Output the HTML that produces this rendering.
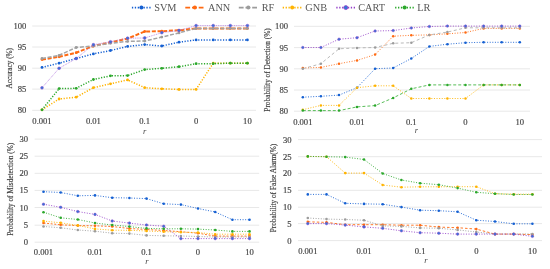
<!DOCTYPE html>
<html><head><meta charset="utf-8"><style>
html,body{margin:0;padding:0;background:#fff;width:550px;height:269px;overflow:hidden}
svg{display:block;filter:blur(0.35px)}
text{font-family:"Liberation Serif",serif;fill:#454545;stroke:#454545;stroke-width:0.18px}
.t{font-size:8.6px}
.r{font-size:8.5px;font-style:italic;stroke:none!important}
.ti{font-size:7.3px}
.b{font-size:7.7px}
.lg{font-size:10.3px;stroke:none!important;fill:#555!important}
</style></head><body>
<svg width="550" height="269" viewBox="0 0 550 269">
<rect width="550" height="269" fill="#fff"/>
<line x1="32.2" y1="26.0" x2="256" y2="26.0" stroke="#e8e8e8" stroke-width="1"/>
<text x="26.3" y="29.0" text-anchor="end" class="t">100</text>
<line x1="32.2" y1="47.0" x2="256" y2="47.0" stroke="#e8e8e8" stroke-width="1"/>
<text x="26.3" y="50.0" text-anchor="end" class="t">95</text>
<line x1="32.2" y1="68.2" x2="256" y2="68.2" stroke="#e8e8e8" stroke-width="1"/>
<text x="26.3" y="71.2" text-anchor="end" class="t">90</text>
<line x1="32.2" y1="89.1" x2="256" y2="89.1" stroke="#e8e8e8" stroke-width="1"/>
<text x="26.3" y="92.1" text-anchor="end" class="t">85</text>
<line x1="32.2" y1="110.3" x2="256" y2="110.3" stroke="#e8e8e8" stroke-width="1"/>
<text x="26.3" y="113.3" text-anchor="end" class="t">80</text>
<text x="42.0" y="124.0" text-anchor="middle" class="t">0.001</text>
<text x="93.4" y="124.0" text-anchor="middle" class="t">0.01</text>
<text x="144.7" y="124.0" text-anchor="middle" class="t">0.1</text>
<text x="196.1" y="124.0" text-anchor="middle" class="t">0</text>
<text x="247.4" y="124.0" text-anchor="middle" class="t">10</text>
<text x="144.7" y="134.0" text-anchor="middle" class="r">r</text>
<text transform="translate(11.8,68.2) rotate(-90)" text-anchor="middle" textLength="40.5" lengthAdjust="spacingAndGlyphs" class="ti b">Accuracy (%)</text>
<polyline points="42.0,67.4 59.1,63.2 76.2,58.5 93.4,53.9 110.5,50.5 127.6,46.4 144.7,44.6 161.8,46.0 179.0,42.2 196.1,39.9 213.2,39.9 230.3,39.9 247.4,39.9" fill="none" stroke="#1560d2" stroke-width="1.5" stroke-dasharray="1.2 1.55"/>
<circle cx="42.0" cy="67.4" r="1.4" fill="#1560d2"/>
<circle cx="59.1" cy="63.2" r="1.4" fill="#1560d2"/>
<circle cx="76.2" cy="58.5" r="1.4" fill="#1560d2"/>
<circle cx="93.4" cy="53.9" r="1.4" fill="#1560d2"/>
<circle cx="110.5" cy="50.5" r="1.4" fill="#1560d2"/>
<circle cx="127.6" cy="46.4" r="1.4" fill="#1560d2"/>
<circle cx="144.7" cy="44.6" r="1.4" fill="#1560d2"/>
<circle cx="161.8" cy="46.0" r="1.4" fill="#1560d2"/>
<circle cx="179.0" cy="42.2" r="1.4" fill="#1560d2"/>
<circle cx="196.1" cy="39.9" r="1.4" fill="#1560d2"/>
<circle cx="213.2" cy="39.9" r="1.4" fill="#1560d2"/>
<circle cx="230.3" cy="39.9" r="1.4" fill="#1560d2"/>
<circle cx="247.4" cy="39.9" r="1.4" fill="#1560d2"/>
<polyline points="42.0,59.6 59.1,56.8 76.2,52.7 93.4,46.0 110.5,42.3 127.6,38.6 144.7,31.5 161.8,31.2 179.0,30.3 196.1,28.4 213.2,28.4 230.3,28.4 247.4,28.4" fill="none" stroke="#ff6a12" stroke-width="2.0" stroke-dasharray="4 1.7"/>
<circle cx="42.0" cy="59.6" r="1.4" fill="#ff6a12"/>
<circle cx="59.1" cy="56.8" r="1.4" fill="#ff6a12"/>
<circle cx="76.2" cy="52.7" r="1.4" fill="#ff6a12"/>
<circle cx="93.4" cy="46.0" r="1.4" fill="#ff6a12"/>
<circle cx="110.5" cy="42.3" r="1.4" fill="#ff6a12"/>
<circle cx="127.6" cy="38.6" r="1.4" fill="#ff6a12"/>
<circle cx="144.7" cy="31.5" r="1.4" fill="#ff6a12"/>
<circle cx="161.8" cy="31.2" r="1.4" fill="#ff6a12"/>
<circle cx="179.0" cy="30.3" r="1.4" fill="#ff6a12"/>
<circle cx="196.1" cy="28.4" r="1.4" fill="#ff6a12"/>
<circle cx="213.2" cy="28.4" r="1.4" fill="#ff6a12"/>
<circle cx="230.3" cy="28.4" r="1.4" fill="#ff6a12"/>
<circle cx="247.4" cy="28.4" r="1.4" fill="#ff6a12"/>
<polyline points="42.0,58.5 59.1,55.3 76.2,47.5 93.4,46.0 110.5,43.3 127.6,41.4 144.7,41.0 161.8,37.1 179.0,32.9 196.1,28.4 213.2,28.4 230.3,28.4 247.4,28.4" fill="none" stroke="#a4a4a4" stroke-width="1.5" stroke-dasharray="4 1.7"/>
<circle cx="42.0" cy="58.5" r="1.4" fill="#9c9c9c"/>
<circle cx="59.1" cy="55.3" r="1.4" fill="#9c9c9c"/>
<circle cx="76.2" cy="47.5" r="1.4" fill="#9c9c9c"/>
<circle cx="93.4" cy="46.0" r="1.4" fill="#9c9c9c"/>
<circle cx="110.5" cy="43.3" r="1.4" fill="#9c9c9c"/>
<circle cx="127.6" cy="41.4" r="1.4" fill="#9c9c9c"/>
<circle cx="144.7" cy="41.0" r="1.4" fill="#9c9c9c"/>
<circle cx="161.8" cy="37.1" r="1.4" fill="#9c9c9c"/>
<circle cx="179.0" cy="32.9" r="1.4" fill="#9c9c9c"/>
<circle cx="196.1" cy="28.4" r="1.4" fill="#9c9c9c"/>
<circle cx="213.2" cy="28.4" r="1.4" fill="#9c9c9c"/>
<circle cx="230.3" cy="28.4" r="1.4" fill="#9c9c9c"/>
<circle cx="247.4" cy="28.4" r="1.4" fill="#9c9c9c"/>
<polyline points="42.0,109.8 59.1,99.0 76.2,97.2 93.4,87.7 110.5,83.8 127.6,79.9 144.7,87.7 161.8,88.8 179.0,89.5 196.1,89.4 213.2,63.2 230.3,63.2 247.4,63.2" fill="none" stroke="#ffb300" stroke-width="1.5" stroke-dasharray="1.2 1.55"/>
<circle cx="42.0" cy="109.8" r="1.4" fill="#ffb300"/>
<circle cx="59.1" cy="99.0" r="1.4" fill="#ffb300"/>
<circle cx="76.2" cy="97.2" r="1.4" fill="#ffb300"/>
<circle cx="93.4" cy="87.7" r="1.4" fill="#ffb300"/>
<circle cx="110.5" cy="83.8" r="1.4" fill="#ffb300"/>
<circle cx="127.6" cy="79.9" r="1.4" fill="#ffb300"/>
<circle cx="144.7" cy="87.7" r="1.4" fill="#ffb300"/>
<circle cx="161.8" cy="88.8" r="1.4" fill="#ffb300"/>
<circle cx="179.0" cy="89.5" r="1.4" fill="#ffb300"/>
<circle cx="196.1" cy="89.4" r="1.4" fill="#ffb300"/>
<circle cx="213.2" cy="63.2" r="1.4" fill="#ffb300"/>
<circle cx="230.3" cy="63.2" r="1.4" fill="#ffb300"/>
<circle cx="247.4" cy="63.2" r="1.4" fill="#ffb300"/>
<polyline points="42.0,87.8 59.1,68.3 76.2,58.5 93.4,44.7 110.5,41.8 127.6,38.2 144.7,38.0 161.8,32.7 179.0,30.5 196.1,25.6 213.2,25.6 230.3,25.6 247.4,25.6" fill="none" stroke="#b57ddf" stroke-width="0.8" stroke-dasharray="1 0.8"/>
<circle cx="42.0" cy="87.8" r="1.4" fill="#2f7ad8" stroke="#9440c8" stroke-width="0.5"/>
<circle cx="59.1" cy="68.3" r="1.4" fill="#2f7ad8" stroke="#9440c8" stroke-width="0.5"/>
<circle cx="76.2" cy="58.5" r="1.4" fill="#2f7ad8" stroke="#9440c8" stroke-width="0.5"/>
<circle cx="93.4" cy="44.7" r="1.4" fill="#2f7ad8" stroke="#9440c8" stroke-width="0.5"/>
<circle cx="110.5" cy="41.8" r="1.4" fill="#2f7ad8" stroke="#9440c8" stroke-width="0.5"/>
<circle cx="127.6" cy="38.2" r="1.4" fill="#2f7ad8" stroke="#9440c8" stroke-width="0.5"/>
<circle cx="144.7" cy="38.0" r="1.4" fill="#2f7ad8" stroke="#9440c8" stroke-width="0.5"/>
<circle cx="161.8" cy="32.7" r="1.4" fill="#2f7ad8" stroke="#9440c8" stroke-width="0.5"/>
<circle cx="179.0" cy="30.5" r="1.4" fill="#2f7ad8" stroke="#9440c8" stroke-width="0.5"/>
<circle cx="196.1" cy="25.6" r="1.4" fill="#2f7ad8" stroke="#9440c8" stroke-width="0.5"/>
<circle cx="213.2" cy="25.6" r="1.4" fill="#2f7ad8" stroke="#9440c8" stroke-width="0.5"/>
<circle cx="230.3" cy="25.6" r="1.4" fill="#2f7ad8" stroke="#9440c8" stroke-width="0.5"/>
<circle cx="247.4" cy="25.6" r="1.4" fill="#2f7ad8" stroke="#9440c8" stroke-width="0.5"/>
<polyline points="42.0,109.8 59.1,88.6 76.2,88.3 93.4,79.5 110.5,75.8 127.6,75.6 144.7,69.6 161.8,68.3 179.0,66.7 196.1,63.7 213.2,63.7 230.3,63.2 247.4,63.2" fill="none" stroke="#2ba82b" stroke-width="1.5" stroke-dasharray="1.2 1.55"/>
<circle cx="42.0" cy="109.8" r="1.4" fill="#2ba82b"/>
<circle cx="59.1" cy="88.6" r="1.4" fill="#2ba82b"/>
<circle cx="76.2" cy="88.3" r="1.4" fill="#2ba82b"/>
<circle cx="93.4" cy="79.5" r="1.4" fill="#2ba82b"/>
<circle cx="110.5" cy="75.8" r="1.4" fill="#2ba82b"/>
<circle cx="127.6" cy="75.6" r="1.4" fill="#2ba82b"/>
<circle cx="144.7" cy="69.6" r="1.4" fill="#2ba82b"/>
<circle cx="161.8" cy="68.3" r="1.4" fill="#2ba82b"/>
<circle cx="179.0" cy="66.7" r="1.4" fill="#2ba82b"/>
<circle cx="196.1" cy="63.7" r="1.4" fill="#2ba82b"/>
<circle cx="213.2" cy="63.7" r="1.4" fill="#2ba82b"/>
<circle cx="230.3" cy="63.2" r="1.4" fill="#2ba82b"/>
<circle cx="247.4" cy="63.2" r="1.4" fill="#2ba82b"/>
<line x1="294" y1="26.3" x2="530" y2="26.3" stroke="#e8e8e8" stroke-width="1"/>
<text x="288" y="29.3" text-anchor="end" class="t">100</text>
<line x1="294" y1="47.6" x2="530" y2="47.6" stroke="#e8e8e8" stroke-width="1"/>
<text x="288" y="50.6" text-anchor="end" class="t">95</text>
<line x1="294" y1="68.8" x2="530" y2="68.8" stroke="#e8e8e8" stroke-width="1"/>
<text x="288" y="71.8" text-anchor="end" class="t">90</text>
<line x1="294" y1="90.0" x2="530" y2="90.0" stroke="#e8e8e8" stroke-width="1"/>
<text x="288" y="93.0" text-anchor="end" class="t">85</text>
<line x1="294" y1="111.2" x2="530" y2="111.2" stroke="#e8e8e8" stroke-width="1"/>
<text x="288" y="114.2" text-anchor="end" class="t">80</text>
<text x="302.8" y="124.5" text-anchor="middle" class="t">0.001</text>
<text x="357.0" y="124.5" text-anchor="middle" class="t">0.01</text>
<text x="411.3" y="124.5" text-anchor="middle" class="t">0.1</text>
<text x="465.5" y="124.5" text-anchor="middle" class="t">0</text>
<text x="519.8" y="124.5" text-anchor="middle" class="t">10</text>
<text x="416.3" y="133.0" text-anchor="middle" class="r">r</text>
<text transform="translate(269.5,70) rotate(-90)" text-anchor="middle" class="ti">Probability of Detection (%)</text>
<polyline points="302.8,97.2 320.9,96.3 339.0,95.1 357.0,87.7 375.1,68.7 393.2,68.0 411.3,58.5 429.4,46.4 447.4,44.2 465.5,42.7 483.6,42.3 501.7,42.3 519.8,42.3" fill="none" stroke="#1560d2" stroke-width="0.9" stroke-dasharray="1 1.6"/>
<circle cx="302.8" cy="97.2" r="1.25" fill="#1560d2"/>
<circle cx="320.9" cy="96.3" r="1.25" fill="#1560d2"/>
<circle cx="339.0" cy="95.1" r="1.25" fill="#1560d2"/>
<circle cx="357.0" cy="87.7" r="1.25" fill="#1560d2"/>
<circle cx="375.1" cy="68.7" r="1.25" fill="#1560d2"/>
<circle cx="393.2" cy="68.0" r="1.25" fill="#1560d2"/>
<circle cx="411.3" cy="58.5" r="1.25" fill="#1560d2"/>
<circle cx="429.4" cy="46.4" r="1.25" fill="#1560d2"/>
<circle cx="447.4" cy="44.2" r="1.25" fill="#1560d2"/>
<circle cx="465.5" cy="42.7" r="1.25" fill="#1560d2"/>
<circle cx="483.6" cy="42.3" r="1.25" fill="#1560d2"/>
<circle cx="501.7" cy="42.3" r="1.25" fill="#1560d2"/>
<circle cx="519.8" cy="42.3" r="1.25" fill="#1560d2"/>
<polyline points="302.8,68.0 320.9,67.4 339.0,63.7 357.0,60.4 375.1,54.6 393.2,36.2 411.3,35.3 429.4,34.9 447.4,33.8 465.5,32.5 483.6,28.4 501.7,28.4 519.8,28.4" fill="none" stroke="#ff6a12" stroke-width="0.9" stroke-dasharray="1 1.6"/>
<circle cx="302.8" cy="68.0" r="1.25" fill="#ff6a12"/>
<circle cx="320.9" cy="67.4" r="1.25" fill="#ff6a12"/>
<circle cx="339.0" cy="63.7" r="1.25" fill="#ff6a12"/>
<circle cx="357.0" cy="60.4" r="1.25" fill="#ff6a12"/>
<circle cx="375.1" cy="54.6" r="1.25" fill="#ff6a12"/>
<circle cx="393.2" cy="36.2" r="1.25" fill="#ff6a12"/>
<circle cx="411.3" cy="35.3" r="1.25" fill="#ff6a12"/>
<circle cx="429.4" cy="34.9" r="1.25" fill="#ff6a12"/>
<circle cx="447.4" cy="33.8" r="1.25" fill="#ff6a12"/>
<circle cx="465.5" cy="32.5" r="1.25" fill="#ff6a12"/>
<circle cx="483.6" cy="28.4" r="1.25" fill="#ff6a12"/>
<circle cx="501.7" cy="28.4" r="1.25" fill="#ff6a12"/>
<circle cx="519.8" cy="28.4" r="1.25" fill="#ff6a12"/>
<polyline points="302.8,68.7 320.9,63.7 339.0,48.8 357.0,47.9 375.1,47.5 393.2,43.3 411.3,42.7 429.4,34.9 447.4,32.1 465.5,27.8 483.6,27.8 501.7,27.8 519.8,27.8" fill="none" stroke="#b0b0b0" stroke-width="0.9" stroke-dasharray="3 2.5"/>
<circle cx="302.8" cy="68.7" r="1.25" fill="#9c9c9c"/>
<circle cx="320.9" cy="63.7" r="1.25" fill="#9c9c9c"/>
<circle cx="339.0" cy="48.8" r="1.25" fill="#9c9c9c"/>
<circle cx="357.0" cy="47.9" r="1.25" fill="#9c9c9c"/>
<circle cx="375.1" cy="47.5" r="1.25" fill="#9c9c9c"/>
<circle cx="393.2" cy="43.3" r="1.25" fill="#9c9c9c"/>
<circle cx="411.3" cy="42.7" r="1.25" fill="#9c9c9c"/>
<circle cx="429.4" cy="34.9" r="1.25" fill="#9c9c9c"/>
<circle cx="447.4" cy="32.1" r="1.25" fill="#9c9c9c"/>
<circle cx="465.5" cy="27.8" r="1.25" fill="#9c9c9c"/>
<circle cx="483.6" cy="27.8" r="1.25" fill="#9c9c9c"/>
<circle cx="501.7" cy="27.8" r="1.25" fill="#9c9c9c"/>
<circle cx="519.8" cy="27.8" r="1.25" fill="#9c9c9c"/>
<polyline points="302.8,109.7 320.9,105.4 339.0,105.4 357.0,87.7 375.1,85.8 393.2,85.8 411.3,98.5 429.4,98.5 447.4,98.5 465.5,98.5 483.6,84.9 501.7,84.9 519.8,84.9" fill="none" stroke="#ffb300" stroke-width="0.9" stroke-dasharray="1 1.6"/>
<circle cx="302.8" cy="109.7" r="1.25" fill="#ffb300"/>
<circle cx="320.9" cy="105.4" r="1.25" fill="#ffb300"/>
<circle cx="339.0" cy="105.4" r="1.25" fill="#ffb300"/>
<circle cx="357.0" cy="87.7" r="1.25" fill="#ffb300"/>
<circle cx="375.1" cy="85.8" r="1.25" fill="#ffb300"/>
<circle cx="393.2" cy="85.8" r="1.25" fill="#ffb300"/>
<circle cx="411.3" cy="98.5" r="1.25" fill="#ffb300"/>
<circle cx="429.4" cy="98.5" r="1.25" fill="#ffb300"/>
<circle cx="447.4" cy="98.5" r="1.25" fill="#ffb300"/>
<circle cx="465.5" cy="98.5" r="1.25" fill="#ffb300"/>
<circle cx="483.6" cy="84.9" r="1.25" fill="#ffb300"/>
<circle cx="501.7" cy="84.9" r="1.25" fill="#ffb300"/>
<circle cx="519.8" cy="84.9" r="1.25" fill="#ffb300"/>
<polyline points="302.8,47.5 320.9,47.5 339.0,39.2 357.0,37.7 375.1,31.0 393.2,30.6 411.3,28.0 429.4,26.5 447.4,26.1 465.5,26.1 483.6,26.1 501.7,26.1 519.8,26.1" fill="none" stroke="#9440c8" stroke-width="0.9" stroke-dasharray="1 1.6"/>
<circle cx="302.8" cy="47.5" r="1.25" fill="#2f7ad8" stroke="#9440c8" stroke-width="0.5"/>
<circle cx="320.9" cy="47.5" r="1.25" fill="#2f7ad8" stroke="#9440c8" stroke-width="0.5"/>
<circle cx="339.0" cy="39.2" r="1.25" fill="#2f7ad8" stroke="#9440c8" stroke-width="0.5"/>
<circle cx="357.0" cy="37.7" r="1.25" fill="#2f7ad8" stroke="#9440c8" stroke-width="0.5"/>
<circle cx="375.1" cy="31.0" r="1.25" fill="#2f7ad8" stroke="#9440c8" stroke-width="0.5"/>
<circle cx="393.2" cy="30.6" r="1.25" fill="#2f7ad8" stroke="#9440c8" stroke-width="0.5"/>
<circle cx="411.3" cy="28.0" r="1.25" fill="#2f7ad8" stroke="#9440c8" stroke-width="0.5"/>
<circle cx="429.4" cy="26.5" r="1.25" fill="#2f7ad8" stroke="#9440c8" stroke-width="0.5"/>
<circle cx="447.4" cy="26.1" r="1.25" fill="#2f7ad8" stroke="#9440c8" stroke-width="0.5"/>
<circle cx="465.5" cy="26.1" r="1.25" fill="#2f7ad8" stroke="#9440c8" stroke-width="0.5"/>
<circle cx="483.6" cy="26.1" r="1.25" fill="#2f7ad8" stroke="#9440c8" stroke-width="0.5"/>
<circle cx="501.7" cy="26.1" r="1.25" fill="#2f7ad8" stroke="#9440c8" stroke-width="0.5"/>
<circle cx="519.8" cy="26.1" r="1.25" fill="#2f7ad8" stroke="#9440c8" stroke-width="0.5"/>
<polyline points="302.8,110.6 320.9,110.6 339.0,110.6 357.0,106.9 375.1,105.6 393.2,97.9 411.3,88.8 429.4,84.9 447.4,84.9 465.5,84.9 483.6,84.9 501.7,84.9 519.8,84.9" fill="none" stroke="#45b545" stroke-width="0.9" stroke-dasharray="3 2"/>
<circle cx="302.8" cy="110.6" r="1.25" fill="#2ba82b"/>
<circle cx="320.9" cy="110.6" r="1.25" fill="#2ba82b"/>
<circle cx="339.0" cy="110.6" r="1.25" fill="#2ba82b"/>
<circle cx="357.0" cy="106.9" r="1.25" fill="#2ba82b"/>
<circle cx="375.1" cy="105.6" r="1.25" fill="#2ba82b"/>
<circle cx="393.2" cy="97.9" r="1.25" fill="#2ba82b"/>
<circle cx="411.3" cy="88.8" r="1.25" fill="#2ba82b"/>
<circle cx="429.4" cy="84.9" r="1.25" fill="#2ba82b"/>
<circle cx="447.4" cy="84.9" r="1.25" fill="#2ba82b"/>
<circle cx="465.5" cy="84.9" r="1.25" fill="#2ba82b"/>
<circle cx="483.6" cy="84.9" r="1.25" fill="#2ba82b"/>
<circle cx="501.7" cy="84.9" r="1.25" fill="#2ba82b"/>
<circle cx="519.8" cy="84.9" r="1.25" fill="#2ba82b"/>
<line x1="34.6" y1="139.1" x2="259.2" y2="139.1" stroke="#e8e8e8" stroke-width="1"/>
<text x="28" y="142.1" text-anchor="end" class="t">30</text>
<line x1="34.6" y1="156.2" x2="259.2" y2="156.2" stroke="#e8e8e8" stroke-width="1"/>
<text x="28" y="159.2" text-anchor="end" class="t">25</text>
<line x1="34.6" y1="173.3" x2="259.2" y2="173.3" stroke="#e8e8e8" stroke-width="1"/>
<text x="28" y="176.3" text-anchor="end" class="t">20</text>
<line x1="34.6" y1="190.4" x2="259.2" y2="190.4" stroke="#e8e8e8" stroke-width="1"/>
<text x="28" y="193.4" text-anchor="end" class="t">15</text>
<line x1="34.6" y1="207.5" x2="259.2" y2="207.5" stroke="#e8e8e8" stroke-width="1"/>
<text x="28" y="210.5" text-anchor="end" class="t">10</text>
<line x1="34.6" y1="225.2" x2="259.2" y2="225.2" stroke="#e8e8e8" stroke-width="1"/>
<text x="28" y="228.2" text-anchor="end" class="t">5</text>
<line x1="34.6" y1="242.2" x2="259.2" y2="242.2" stroke="#e8e8e8" stroke-width="1"/>
<text x="28" y="245.2" text-anchor="end" class="t">0</text>
<text x="43.5" y="255.3" text-anchor="middle" class="t">0.001</text>
<text x="95.0" y="255.3" text-anchor="middle" class="t">0.01</text>
<text x="146.5" y="255.3" text-anchor="middle" class="t">0.1</text>
<text x="198.0" y="255.3" text-anchor="middle" class="t">0</text>
<text x="249.5" y="255.3" text-anchor="middle" class="t">10</text>
<text x="146.9" y="263.5" text-anchor="middle" class="r">r</text>
<text transform="translate(12.5,189.3) rotate(-90)" text-anchor="middle" class="ti">Probability of Misdetection (%)</text>
<polyline points="43.5,191.7 60.7,192.5 77.8,195.8 95.0,195.4 112.2,197.7 129.4,198.0 146.5,198.6 163.7,203.8 180.9,204.6 198.0,208.5 215.2,212.0 232.4,219.7 249.5,219.7" fill="none" stroke="#1560d2" stroke-width="0.9" stroke-dasharray="1 1.6"/>
<circle cx="43.5" cy="191.7" r="1.3" fill="#1560d2"/>
<circle cx="60.7" cy="192.5" r="1.3" fill="#1560d2"/>
<circle cx="77.8" cy="195.8" r="1.3" fill="#1560d2"/>
<circle cx="95.0" cy="195.4" r="1.3" fill="#1560d2"/>
<circle cx="112.2" cy="197.7" r="1.3" fill="#1560d2"/>
<circle cx="129.4" cy="198.0" r="1.3" fill="#1560d2"/>
<circle cx="146.5" cy="198.6" r="1.3" fill="#1560d2"/>
<circle cx="163.7" cy="203.8" r="1.3" fill="#1560d2"/>
<circle cx="180.9" cy="204.6" r="1.3" fill="#1560d2"/>
<circle cx="198.0" cy="208.5" r="1.3" fill="#1560d2"/>
<circle cx="215.2" cy="212.0" r="1.3" fill="#1560d2"/>
<circle cx="232.4" cy="219.7" r="1.3" fill="#1560d2"/>
<circle cx="249.5" cy="219.7" r="1.3" fill="#1560d2"/>
<polyline points="43.5,223.0 60.7,224.8 77.8,225.6 95.0,225.8 112.2,226.5 129.4,228.5 146.5,229.5 163.7,230.5 180.9,231.7 198.0,233.2 215.2,236.1 232.4,236.1 249.5,236.1" fill="none" stroke="#ff6a12" stroke-width="0.9" stroke-dasharray="2 1.6"/>
<circle cx="43.5" cy="223.0" r="1.3" fill="#ff6a12"/>
<circle cx="60.7" cy="224.8" r="1.3" fill="#ff6a12"/>
<circle cx="77.8" cy="225.6" r="1.3" fill="#ff6a12"/>
<circle cx="95.0" cy="225.8" r="1.3" fill="#ff6a12"/>
<circle cx="112.2" cy="226.5" r="1.3" fill="#ff6a12"/>
<circle cx="129.4" cy="228.5" r="1.3" fill="#ff6a12"/>
<circle cx="146.5" cy="229.5" r="1.3" fill="#ff6a12"/>
<circle cx="163.7" cy="230.5" r="1.3" fill="#ff6a12"/>
<circle cx="180.9" cy="231.7" r="1.3" fill="#ff6a12"/>
<circle cx="198.0" cy="233.2" r="1.3" fill="#ff6a12"/>
<circle cx="215.2" cy="236.1" r="1.3" fill="#ff6a12"/>
<circle cx="232.4" cy="236.1" r="1.3" fill="#ff6a12"/>
<circle cx="249.5" cy="236.1" r="1.3" fill="#ff6a12"/>
<polyline points="43.5,226.5 60.7,227.8 77.8,230.0 95.0,231.2 112.2,233.2 129.4,233.6 146.5,235.4 163.7,235.8 180.9,236.0 198.0,236.5 215.2,237.0 232.4,237.0 249.5,237.0" fill="none" stroke="#9c9c9c" stroke-width="0.9" stroke-dasharray="1 1.6"/>
<circle cx="43.5" cy="226.5" r="1.3" fill="#9c9c9c"/>
<circle cx="60.7" cy="227.8" r="1.3" fill="#9c9c9c"/>
<circle cx="77.8" cy="230.0" r="1.3" fill="#9c9c9c"/>
<circle cx="95.0" cy="231.2" r="1.3" fill="#9c9c9c"/>
<circle cx="112.2" cy="233.2" r="1.3" fill="#9c9c9c"/>
<circle cx="129.4" cy="233.6" r="1.3" fill="#9c9c9c"/>
<circle cx="146.5" cy="235.4" r="1.3" fill="#9c9c9c"/>
<circle cx="163.7" cy="235.8" r="1.3" fill="#9c9c9c"/>
<circle cx="180.9" cy="236.0" r="1.3" fill="#9c9c9c"/>
<circle cx="198.0" cy="236.5" r="1.3" fill="#9c9c9c"/>
<circle cx="215.2" cy="237.0" r="1.3" fill="#9c9c9c"/>
<circle cx="232.4" cy="237.0" r="1.3" fill="#9c9c9c"/>
<circle cx="249.5" cy="237.0" r="1.3" fill="#9c9c9c"/>
<polyline points="43.5,221.1 60.7,222.8 77.8,225.4 95.0,228.9 112.2,230.2 129.4,230.3 146.5,231.0 163.7,231.7 180.9,232.2 198.0,232.5 215.2,234.2 232.4,234.2 249.5,234.2" fill="none" stroke="#ffb300" stroke-width="0.9" stroke-dasharray="1 1.6"/>
<circle cx="43.5" cy="221.1" r="1.3" fill="#ffb300"/>
<circle cx="60.7" cy="222.8" r="1.3" fill="#ffb300"/>
<circle cx="77.8" cy="225.4" r="1.3" fill="#ffb300"/>
<circle cx="95.0" cy="228.9" r="1.3" fill="#ffb300"/>
<circle cx="112.2" cy="230.2" r="1.3" fill="#ffb300"/>
<circle cx="129.4" cy="230.3" r="1.3" fill="#ffb300"/>
<circle cx="146.5" cy="231.0" r="1.3" fill="#ffb300"/>
<circle cx="163.7" cy="231.7" r="1.3" fill="#ffb300"/>
<circle cx="180.9" cy="232.2" r="1.3" fill="#ffb300"/>
<circle cx="198.0" cy="232.5" r="1.3" fill="#ffb300"/>
<circle cx="215.2" cy="234.2" r="1.3" fill="#ffb300"/>
<circle cx="232.4" cy="234.2" r="1.3" fill="#ffb300"/>
<circle cx="249.5" cy="234.2" r="1.3" fill="#ffb300"/>
<polyline points="43.5,204.2 60.7,207.3 77.8,211.6 95.0,214.4 112.2,221.0 129.4,223.1 146.5,225.0 163.7,226.2 180.9,238.6 198.0,238.6 215.2,238.6 232.4,238.6 249.5,238.6" fill="none" stroke="#9440c8" stroke-width="0.9" stroke-dasharray="1 1.6"/>
<circle cx="43.5" cy="204.2" r="1.3" fill="#2f7ad8" stroke="#9440c8" stroke-width="0.5"/>
<circle cx="60.7" cy="207.3" r="1.3" fill="#2f7ad8" stroke="#9440c8" stroke-width="0.5"/>
<circle cx="77.8" cy="211.6" r="1.3" fill="#2f7ad8" stroke="#9440c8" stroke-width="0.5"/>
<circle cx="95.0" cy="214.4" r="1.3" fill="#2f7ad8" stroke="#9440c8" stroke-width="0.5"/>
<circle cx="112.2" cy="221.0" r="1.3" fill="#2f7ad8" stroke="#9440c8" stroke-width="0.5"/>
<circle cx="129.4" cy="223.1" r="1.3" fill="#2f7ad8" stroke="#9440c8" stroke-width="0.5"/>
<circle cx="146.5" cy="225.0" r="1.3" fill="#2f7ad8" stroke="#9440c8" stroke-width="0.5"/>
<circle cx="163.7" cy="226.2" r="1.3" fill="#2f7ad8" stroke="#9440c8" stroke-width="0.5"/>
<circle cx="180.9" cy="238.6" r="1.3" fill="#2f7ad8" stroke="#9440c8" stroke-width="0.5"/>
<circle cx="198.0" cy="238.6" r="1.3" fill="#2f7ad8" stroke="#9440c8" stroke-width="0.5"/>
<circle cx="215.2" cy="238.6" r="1.3" fill="#2f7ad8" stroke="#9440c8" stroke-width="0.5"/>
<circle cx="232.4" cy="238.6" r="1.3" fill="#2f7ad8" stroke="#9440c8" stroke-width="0.5"/>
<circle cx="249.5" cy="238.6" r="1.3" fill="#2f7ad8" stroke="#9440c8" stroke-width="0.5"/>
<polyline points="43.5,212.2 60.7,217.8 77.8,219.5 95.0,223.0 112.2,225.0 129.4,226.6 146.5,228.4 163.7,228.8 180.9,228.8 198.0,229.1 215.2,230.0 232.4,231.4 249.5,231.4" fill="none" stroke="#2ba82b" stroke-width="0.9" stroke-dasharray="1 1.6"/>
<circle cx="43.5" cy="212.2" r="1.3" fill="#2ba82b"/>
<circle cx="60.7" cy="217.8" r="1.3" fill="#2ba82b"/>
<circle cx="77.8" cy="219.5" r="1.3" fill="#2ba82b"/>
<circle cx="95.0" cy="223.0" r="1.3" fill="#2ba82b"/>
<circle cx="112.2" cy="225.0" r="1.3" fill="#2ba82b"/>
<circle cx="129.4" cy="226.6" r="1.3" fill="#2ba82b"/>
<circle cx="146.5" cy="228.4" r="1.3" fill="#2ba82b"/>
<circle cx="163.7" cy="228.8" r="1.3" fill="#2ba82b"/>
<circle cx="180.9" cy="228.8" r="1.3" fill="#2ba82b"/>
<circle cx="198.0" cy="229.1" r="1.3" fill="#2ba82b"/>
<circle cx="215.2" cy="230.0" r="1.3" fill="#2ba82b"/>
<circle cx="232.4" cy="231.4" r="1.3" fill="#2ba82b"/>
<circle cx="249.5" cy="231.4" r="1.3" fill="#2ba82b"/>
<line x1="298" y1="139.6" x2="542" y2="139.6" stroke="#e8e8e8" stroke-width="1"/>
<text x="291.5" y="142.6" text-anchor="end" class="t">30</text>
<line x1="298" y1="156.7" x2="542" y2="156.7" stroke="#e8e8e8" stroke-width="1"/>
<text x="291.5" y="159.7" text-anchor="end" class="t">25</text>
<line x1="298" y1="173.4" x2="542" y2="173.4" stroke="#e8e8e8" stroke-width="1"/>
<text x="291.5" y="176.4" text-anchor="end" class="t">20</text>
<line x1="298" y1="190.3" x2="542" y2="190.3" stroke="#e8e8e8" stroke-width="1"/>
<text x="291.5" y="193.3" text-anchor="end" class="t">15</text>
<line x1="298" y1="207.2" x2="542" y2="207.2" stroke="#e8e8e8" stroke-width="1"/>
<text x="291.5" y="210.2" text-anchor="end" class="t">10</text>
<line x1="298" y1="223.6" x2="542" y2="223.6" stroke="#e8e8e8" stroke-width="1"/>
<text x="291.5" y="226.6" text-anchor="end" class="t">5</text>
<line x1="298" y1="240.6" x2="542" y2="240.6" stroke="#e8e8e8" stroke-width="1"/>
<text x="291.5" y="243.6" text-anchor="end" class="t">0</text>
<text x="307.8" y="254.3" text-anchor="middle" class="t">0.001</text>
<text x="364.0" y="254.3" text-anchor="middle" class="t">0.01</text>
<text x="420.1" y="254.3" text-anchor="middle" class="t">0.1</text>
<text x="476.3" y="254.3" text-anchor="middle" class="t">0</text>
<text x="532.4" y="254.3" text-anchor="middle" class="t">10</text>
<text x="426" y="263.0" text-anchor="middle" class="r">r</text>
<text transform="translate(276.0,188.0) rotate(-90)" text-anchor="middle" class="ti">Probability of False Alarm(%)</text>
<polyline points="307.8,194.4 326.5,194.4 345.2,203.3 364.0,203.9 382.7,204.2 401.4,207.1 420.1,210.2 438.8,210.7 457.6,211.8 476.3,220.2 495.0,221.5 513.7,223.8 532.4,223.8" fill="none" stroke="#1560d2" stroke-width="0.9" stroke-dasharray="1 1.6"/>
<circle cx="307.8" cy="194.4" r="1.3" fill="#1560d2"/>
<circle cx="326.5" cy="194.4" r="1.3" fill="#1560d2"/>
<circle cx="345.2" cy="203.3" r="1.3" fill="#1560d2"/>
<circle cx="364.0" cy="203.9" r="1.3" fill="#1560d2"/>
<circle cx="382.7" cy="204.2" r="1.3" fill="#1560d2"/>
<circle cx="401.4" cy="207.1" r="1.3" fill="#1560d2"/>
<circle cx="420.1" cy="210.2" r="1.3" fill="#1560d2"/>
<circle cx="438.8" cy="210.7" r="1.3" fill="#1560d2"/>
<circle cx="457.6" cy="211.8" r="1.3" fill="#1560d2"/>
<circle cx="476.3" cy="220.2" r="1.3" fill="#1560d2"/>
<circle cx="495.0" cy="221.5" r="1.3" fill="#1560d2"/>
<circle cx="513.7" cy="223.8" r="1.3" fill="#1560d2"/>
<circle cx="532.4" cy="223.8" r="1.3" fill="#1560d2"/>
<polyline points="307.8,221.8 326.5,222.4 345.2,224.7 364.0,224.7 382.7,224.7 401.4,225.2 420.1,225.2 438.8,227.1 457.6,227.7 476.3,229.1 495.0,234.1 513.7,234.1 532.4,234.6" fill="none" stroke="#ff6a12" stroke-width="0.9" stroke-dasharray="2.5 2"/>
<circle cx="307.8" cy="221.8" r="1.3" fill="#ff6a12"/>
<circle cx="326.5" cy="222.4" r="1.3" fill="#ff6a12"/>
<circle cx="345.2" cy="224.7" r="1.3" fill="#ff6a12"/>
<circle cx="364.0" cy="224.7" r="1.3" fill="#ff6a12"/>
<circle cx="382.7" cy="224.7" r="1.3" fill="#ff6a12"/>
<circle cx="401.4" cy="225.2" r="1.3" fill="#ff6a12"/>
<circle cx="420.1" cy="225.2" r="1.3" fill="#ff6a12"/>
<circle cx="438.8" cy="227.1" r="1.3" fill="#ff6a12"/>
<circle cx="457.6" cy="227.7" r="1.3" fill="#ff6a12"/>
<circle cx="476.3" cy="229.1" r="1.3" fill="#ff6a12"/>
<circle cx="495.0" cy="234.1" r="1.3" fill="#ff6a12"/>
<circle cx="513.7" cy="234.1" r="1.3" fill="#ff6a12"/>
<circle cx="532.4" cy="234.6" r="1.3" fill="#ff6a12"/>
<polyline points="307.8,218.0 326.5,219.1 345.2,219.5 364.0,220.2 382.7,225.9 401.4,226.4 420.1,227.9 438.8,228.3 457.6,229.9 476.3,232.0 495.0,234.0 513.7,234.0 532.4,234.0" fill="none" stroke="#9c9c9c" stroke-width="0.9" stroke-dasharray="1 1.6"/>
<circle cx="307.8" cy="218.0" r="1.3" fill="#9c9c9c"/>
<circle cx="326.5" cy="219.1" r="1.3" fill="#9c9c9c"/>
<circle cx="345.2" cy="219.5" r="1.3" fill="#9c9c9c"/>
<circle cx="364.0" cy="220.2" r="1.3" fill="#9c9c9c"/>
<circle cx="382.7" cy="225.9" r="1.3" fill="#9c9c9c"/>
<circle cx="401.4" cy="226.4" r="1.3" fill="#9c9c9c"/>
<circle cx="420.1" cy="227.9" r="1.3" fill="#9c9c9c"/>
<circle cx="438.8" cy="228.3" r="1.3" fill="#9c9c9c"/>
<circle cx="457.6" cy="229.9" r="1.3" fill="#9c9c9c"/>
<circle cx="476.3" cy="232.0" r="1.3" fill="#9c9c9c"/>
<circle cx="495.0" cy="234.0" r="1.3" fill="#9c9c9c"/>
<circle cx="513.7" cy="234.0" r="1.3" fill="#9c9c9c"/>
<circle cx="532.4" cy="234.0" r="1.3" fill="#9c9c9c"/>
<polyline points="307.8,156.4 326.5,156.7 345.2,173.1 364.0,173.1 382.7,185.0 401.4,187.2 420.1,186.8 438.8,186.8 457.6,186.7 476.3,186.7 495.0,193.7 513.7,194.2 532.4,194.2" fill="none" stroke="#ffb300" stroke-width="0.9" stroke-dasharray="1 1.6"/>
<circle cx="307.8" cy="156.4" r="1.3" fill="#ffb300"/>
<circle cx="326.5" cy="156.7" r="1.3" fill="#ffb300"/>
<circle cx="345.2" cy="173.1" r="1.3" fill="#ffb300"/>
<circle cx="364.0" cy="173.1" r="1.3" fill="#ffb300"/>
<circle cx="382.7" cy="185.0" r="1.3" fill="#ffb300"/>
<circle cx="401.4" cy="187.2" r="1.3" fill="#ffb300"/>
<circle cx="420.1" cy="186.8" r="1.3" fill="#ffb300"/>
<circle cx="438.8" cy="186.8" r="1.3" fill="#ffb300"/>
<circle cx="457.6" cy="186.7" r="1.3" fill="#ffb300"/>
<circle cx="476.3" cy="186.7" r="1.3" fill="#ffb300"/>
<circle cx="495.0" cy="193.7" r="1.3" fill="#ffb300"/>
<circle cx="513.7" cy="194.2" r="1.3" fill="#ffb300"/>
<circle cx="532.4" cy="194.2" r="1.3" fill="#ffb300"/>
<polyline points="307.8,223.6 326.5,223.6 345.2,225.1 364.0,226.9 382.7,228.3 401.4,230.8 420.1,232.7 438.8,233.2 457.6,234.1 476.3,234.1 495.0,234.1 513.7,234.1 532.4,236.3" fill="none" stroke="#9440c8" stroke-width="0.9" stroke-dasharray="1 1.6"/>
<circle cx="307.8" cy="223.6" r="1.3" fill="#2f7ad8" stroke="#9440c8" stroke-width="0.5"/>
<circle cx="326.5" cy="223.6" r="1.3" fill="#2f7ad8" stroke="#9440c8" stroke-width="0.5"/>
<circle cx="345.2" cy="225.1" r="1.3" fill="#2f7ad8" stroke="#9440c8" stroke-width="0.5"/>
<circle cx="364.0" cy="226.9" r="1.3" fill="#2f7ad8" stroke="#9440c8" stroke-width="0.5"/>
<circle cx="382.7" cy="228.3" r="1.3" fill="#2f7ad8" stroke="#9440c8" stroke-width="0.5"/>
<circle cx="401.4" cy="230.8" r="1.3" fill="#2f7ad8" stroke="#9440c8" stroke-width="0.5"/>
<circle cx="420.1" cy="232.7" r="1.3" fill="#2f7ad8" stroke="#9440c8" stroke-width="0.5"/>
<circle cx="438.8" cy="233.2" r="1.3" fill="#2f7ad8" stroke="#9440c8" stroke-width="0.5"/>
<circle cx="457.6" cy="234.1" r="1.3" fill="#2f7ad8" stroke="#9440c8" stroke-width="0.5"/>
<circle cx="476.3" cy="234.1" r="1.3" fill="#2f7ad8" stroke="#9440c8" stroke-width="0.5"/>
<circle cx="495.0" cy="234.1" r="1.3" fill="#2f7ad8" stroke="#9440c8" stroke-width="0.5"/>
<circle cx="513.7" cy="234.1" r="1.3" fill="#2f7ad8" stroke="#9440c8" stroke-width="0.5"/>
<circle cx="532.4" cy="236.3" r="1.3" fill="#2f7ad8" stroke="#9440c8" stroke-width="0.5"/>
<polyline points="307.8,156.4 326.5,156.7 345.2,157.1 364.0,159.5 382.7,173.5 401.4,180.0 420.1,183.2 438.8,184.7 457.6,188.1 476.3,192.3 495.0,193.7 513.7,194.5 532.4,194.5" fill="none" stroke="#2ba82b" stroke-width="0.9" stroke-dasharray="1 1.6"/>
<circle cx="307.8" cy="156.4" r="1.3" fill="#2ba82b"/>
<circle cx="326.5" cy="156.7" r="1.3" fill="#2ba82b"/>
<circle cx="345.2" cy="157.1" r="1.3" fill="#2ba82b"/>
<circle cx="364.0" cy="159.5" r="1.3" fill="#2ba82b"/>
<circle cx="382.7" cy="173.5" r="1.3" fill="#2ba82b"/>
<circle cx="401.4" cy="180.0" r="1.3" fill="#2ba82b"/>
<circle cx="420.1" cy="183.2" r="1.3" fill="#2ba82b"/>
<circle cx="438.8" cy="184.7" r="1.3" fill="#2ba82b"/>
<circle cx="457.6" cy="188.1" r="1.3" fill="#2ba82b"/>
<circle cx="476.3" cy="192.3" r="1.3" fill="#2ba82b"/>
<circle cx="495.0" cy="193.7" r="1.3" fill="#2ba82b"/>
<circle cx="513.7" cy="194.5" r="1.3" fill="#2ba82b"/>
<circle cx="532.4" cy="194.5" r="1.3" fill="#2ba82b"/>
<line x1="131.9" y1="7.6" x2="150.9" y2="7.6" stroke="#1560d2" stroke-width="1.6" stroke-dasharray="1.3 1.6"/>
<circle cx="141.4" cy="7.6" r="2" fill="#1560d2"/>
<text x="154.2" y="11.2" class="lg">SVM</text>
<line x1="185.3" y1="7.6" x2="204.3" y2="7.6" stroke="#ff6a12" stroke-width="1.8" stroke-dasharray="4.8 1.9"/>
<circle cx="194.8" cy="7.6" r="2" fill="#ff6a12"/>
<text x="208" y="11.2" class="lg">ANN</text>
<line x1="238.8" y1="7.6" x2="257.8" y2="7.6" stroke="#9c9c9c" stroke-width="1.8" stroke-dasharray="4.8 1.9"/>
<circle cx="248.3" cy="7.6" r="2" fill="#9c9c9c"/>
<text x="261.7" y="11.2" class="lg">RF</text>
<line x1="282.7" y1="7.6" x2="301.7" y2="7.6" stroke="#ffb300" stroke-width="1.6" stroke-dasharray="1.3 1.6"/>
<circle cx="292.2" cy="7.6" r="2" fill="#ffb300"/>
<text x="305.3" y="11.2" class="lg">GNB</text>
<line x1="336.3" y1="7.6" x2="355.3" y2="7.6" stroke="#9440c8" stroke-width="1.6" stroke-dasharray="1.3 1.6"/>
<circle cx="345.8" cy="7.6" r="2" fill="#2f7ad8" stroke="#9440c8" stroke-width="0.8"/>
<text x="358.2" y="11.2" class="lg">CART</text>
<line x1="395.1" y1="7.6" x2="414.1" y2="7.6" stroke="#2ba82b" stroke-width="1.6" stroke-dasharray="1.3 1.6"/>
<circle cx="404.6" cy="7.6" r="2" fill="#2ba82b"/>
<text x="417.2" y="11.2" class="lg">LR</text>
</svg>
</body></html>
